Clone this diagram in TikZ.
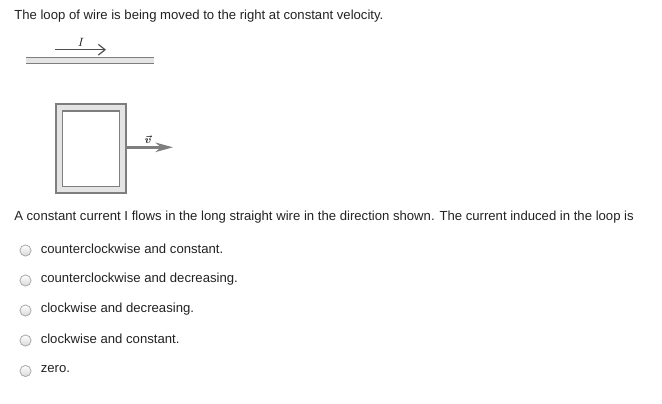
\documentclass[tikz,border=0pt]{standalone}
\usepackage{fontspec}
\setmainfont{Liberation Sans}
\usetikzlibrary{arrows.meta}
\definecolor{txt}{HTML}{222222}
\definecolor{wiregray}{HTML}{7E7E7E}
\definecolor{loopfill}{HTML}{E4E4E4}
\definecolor{radioedge}{HTML}{AAAAAA}
\definecolor{radiofill}{HTML}{D8D8D8}
\tikzset{
  qtext/.style={anchor=west, inner sep=0pt, text=txt, font=\fontsize{9.85pt}{11pt}\selectfont},
  radio/.style={circle, draw=radioedge, line width=0.6pt, inner sep=0pt, minimum size=8.4pt,
    top color=white, bottom color=radiofill},
  wireline/.style={draw=wiregray, line width=0.9pt},
}
\begin{document}
\begin{tikzpicture}[x=0.75pt, y=-0.75pt]
\useasboundingbox (0,0) rectangle (662,404);
% title
\node[qtext] (title) at (14,16) {The loop of wire is being moved to the right at constant velocity.};
% long straight wire
\fill[loopfill] (26,57.3) rectangle (154,63.3);
\coordinate (w1a) at (26,57.3); \coordinate (w1b) at (154,57.3);
\coordinate (w2a) at (26,63.3); \coordinate (w2b) at (154,63.3);
\draw[wireline] (w1a) -- (w1b);
\draw[wireline] (w2a) -- (w2b);
% current arrow
\coordinate (ia) at (55,49.7); \coordinate (ib) at (106,49.7);
\draw[draw=txt!80, line width=0.9pt, -{Straight Barb[length=5pt,width=8pt]}] (ia) -- (ib);
\node[inner sep=0pt, text=txt, font=\fontsize{9pt}{10pt}\selectfont] (ilabel) at (81,42) {$I$};
% loop
\fill[loopfill, draw=wiregray, line width=0.9pt] (56,104) rectangle (126,193);
\fill[white, draw=wiregray, line width=0.9pt] (62.5,111) rectangle (119.5,186.5);
\node[inner sep=0pt, minimum size=0pt] (loopR) at (126,147.3) {};
\coordinate (vend) at (173,147.3);
\draw[draw=wiregray, line width=2.3pt, -{Stealth[length=13pt,width=7pt,inset=4pt]}] (loopR) -- (vend);
\node[inner sep=0pt, text=txt, font=\fontsize{8.5pt}{9pt}\selectfont\boldmath] (vlabel) at (148,140) {$\vec{v}$};
% question
\node[qtext] (question) at (14,217.5) {A constant current I flows in the long straight wire in the direction shown. The current induced in the loop is};
% options
\foreach \y/\t [count=\i] in {250.5/counterclockwise and constant., 280.5/counterclockwise and decreasing., 310.5/clockwise and decreasing., 340.5/clockwise and constant., 371/zero.}{
  \node[radio] (r\i) at (25.5,\y) {};
  \node[qtext] (o\i) at (40.5,\y-1.5) {\t};
}
\end{tikzpicture}
\end{document}
